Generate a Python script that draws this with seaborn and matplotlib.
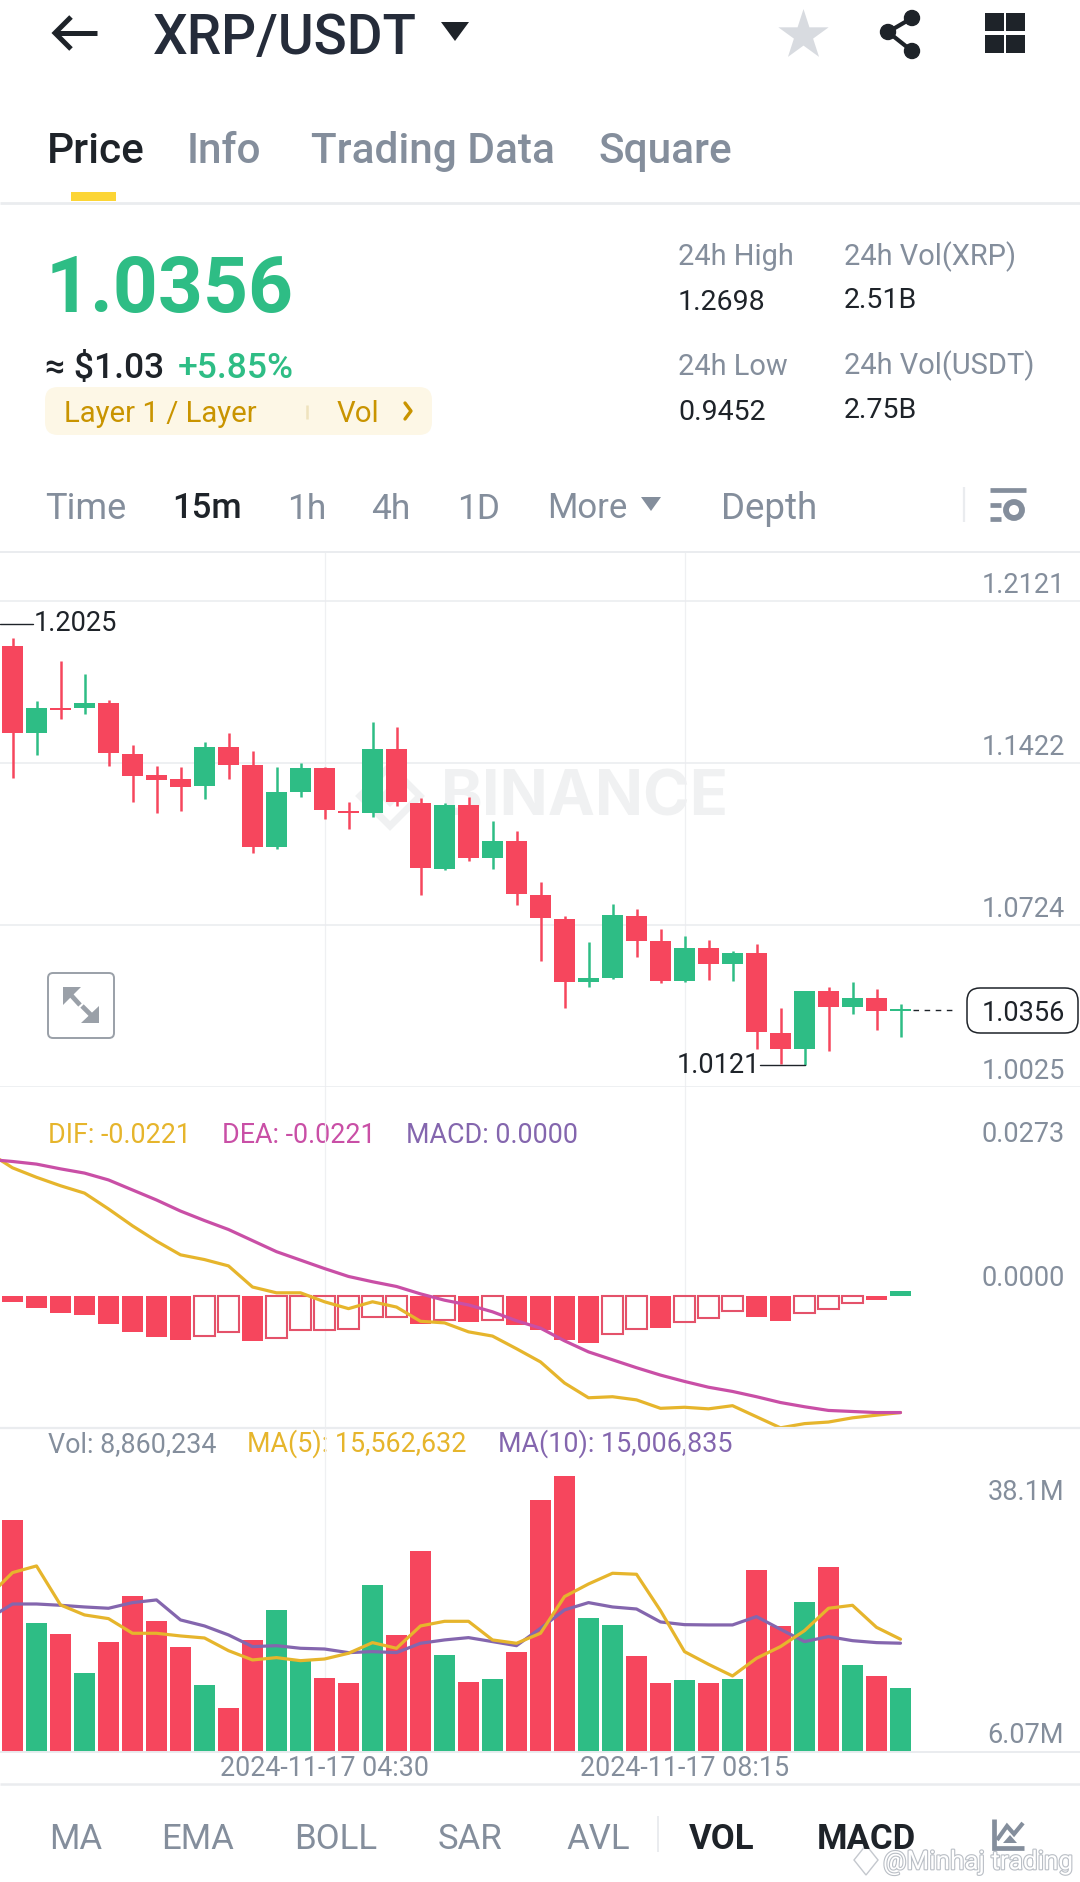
#### Imports ####
import matplotlib
matplotlib.use('Agg')
import matplotlib.pyplot as plt
import matplotlib.patheffects as pe
from matplotlib.patches import FancyBboxPatch, Polygon, Circle, Rectangle
import pandas as pd
import seaborn as sns

#### Data ####
candle_open = [1.1929, 1.1552, 1.1662, 1.1659, 1.1680, 1.1464, 1.1371, 1.1353, 1.1323, 1.1492,
               1.1414, 1.1062, 1.1299, 1.1400, 1.1218, 1.1207, 1.1482, 1.1252, 1.0966, 1.1240,
               1.1012, 1.1088, 1.0855, 1.0751, 1.0478, 1.0495, 1.0764, 1.0656, 1.0481, 1.0626,
               1.0554, 1.0604, 1.0259, 1.0190, 1.0438, 1.0371, 1.0409, 1.0354]
candle_close = [1.1554, 1.1661, 1.1650, 1.1681, 1.1467, 1.1369, 1.1351, 1.1320, 1.1491, 1.1415,
                1.1062, 1.1299, 1.1400, 1.1220, 1.1206, 1.1482, 1.1255, 1.0968, 1.1241, 1.1012,
                1.1088, 1.0856, 1.0754, 1.0479, 1.0495, 1.0766, 1.0657, 1.0481, 1.0626, 1.0554,
                1.0604, 1.0264, 1.0187, 1.0438, 1.0372, 1.0409, 1.0354, 1.0362]
candle_high = [1.1964, 1.1690, 1.1863, 1.1806, 1.1696, 1.1499, 1.1409, 1.1406, 1.1512, 1.1553,
               1.1473, 1.1405, 1.1425, 1.1408, 1.1256, 1.1602, 1.1578, 1.1271, 1.1249, 1.1275,
               1.1173, 1.1131, 1.0908, 1.0761, 1.0652, 1.0815, 1.0793, 1.0708, 1.0678, 1.0659,
               1.0611, 1.0643, 1.0365, 1.0438, 1.0455, 1.0478, 1.0447, 1.0384]
candle_low = [1.1359, 1.1456, 1.1614, 1.1635, 1.1411, 1.1256, 1.1207, 1.1218, 1.1267, 1.1353,
              1.1034, 1.1054, 1.1278, 1.1183, 1.1139, 1.1191, 1.1238, 1.0855, 1.0960, 1.0999,
              1.0965, 1.0812, 1.0568, 1.0366, 1.0455, 1.0491, 1.0588, 1.0475, 1.0479, 1.0488,
              1.0484, 1.0190, 1.0124, 1.0121, 1.0182, 1.0340, 1.0270, 1.0240]
price_ticks = [1.2121, 1.1422, 1.0724, 1.0025]
price_high_mark = 1.2025
price_low_mark = 1.0121
price_last = 1.0356

macd_hist = [-0.0012, -0.0023, -0.0032, -0.0036, -0.0053, -0.0069, -0.0078, -0.0083, -0.0075, -0.0069,
             -0.0086, -0.0080, -0.0064, -0.0064, -0.0062, -0.0039, -0.0039, -0.0054, -0.0045, -0.0049,
             -0.0046, -0.0055, -0.0064, -0.0083, -0.0090, -0.0072, -0.0062, -0.0061, -0.0049, -0.0041,
             -0.0028, -0.0039, -0.0047, -0.0033, -0.0024, -0.0013, -0.0008, 0.0010]
macd_hollow = [8, 9, 11, 12, 13, 14, 15, 16, 18, 20, 25, 26, 28, 29, 30, 33, 34, 35]
macd_ticks = [0.0273, 0.0]

# the lines start one candle left of the visible area
line_index = list(range(-1, 38))
dif_line = [0.0272, 0.0243, 0.0225, 0.0209, 0.0195, 0.0165, 0.0133, 0.0104, 0.0078, 0.0069,
            0.0057, 0.0017, 0.0006, 0.0006, -0.0011, -0.0024, -0.0011, -0.0021, -0.0048, -0.0051,
            -0.0068, -0.0076, -0.0100, -0.0125, -0.0165, -0.0193, -0.0191, -0.0197, -0.0213, -0.0211,
            -0.0214, -0.0208, -0.0229, -0.0250, -0.0242, -0.0239, -0.0231, -0.0226, -0.0221]
dea_line = [0.0259, 0.0255, 0.0250, 0.0241, 0.0233, 0.0220, 0.0201, 0.0182, 0.0161, 0.0143,
            0.0126, 0.0105, 0.0084, 0.0068, 0.0052, 0.0037, 0.0027, 0.0018, 0.0004, -0.0008,
            -0.0017, -0.0030, -0.0047, -0.0061, -0.0085, -0.0106, -0.0121, -0.0136, -0.0150, -0.0162,
            -0.0173, -0.0181, -0.0191, -0.0202, -0.0210, -0.0217, -0.0219, -0.0221, -0.0221]

# volumes in millions
volume = [31.97, 17.80, 16.24, 10.86, 15.13, 21.53, 18.08, 14.44, 9.20, 6.07,
          15.50, 19.60, 12.60, 10.21, 9.48, 23.05, 16.15, 27.74, 13.39, 9.61,
          10.12, 13.85, 34.78, 38.10, 18.54, 17.48, 13.25, 9.48, 9.94, 9.57,
          10.07, 25.12, 17.39, 20.70, 25.58, 12.05, 10.49, 8.86]
ma5_line = [21.44, 24.75, 25.67, 20.29, 18.91, 18.40, 16.38, 16.38, 16.01, 15.73,
            13.98, 12.70, 13.02, 12.60, 12.83, 13.62, 15.09, 14.31, 17.39, 18.03,
            18.03, 15.46, 15.00, 16.38, 21.44, 23.18, 24.66, 24.52, 19.50, 13.85,
            12.10, 10.49, 12.93, 14.54, 16.74, 19.83, 20.24, 17.20, 15.56]
ma10_line = [18.40, 20.42, 20.42, 20.24, 20.01, 19.83, 20.61, 20.98, 18.22, 17.39,
             16.15, 14.54, 14.67, 14.31, 14.21, 13.71, 13.85, 13.71, 15.00, 15.46,
             15.78, 15.23, 14.67, 17.07, 19.60, 20.61, 20.01, 19.73, 17.94, 17.57,
             17.53, 17.53, 18.68, 16.93, 15.23, 15.92, 15.36, 15.09, 15.01]
date_ticks = [13, 28]
date_labels = ['2024-11-17 04:30', '2024-11-17 08:15']

# Colours
GREEN = '#2EBD85'
RED = '#F6465D'
HOLLOW_RED = '#E4526A'
GOLD = '#E6B52C'
PINK = '#C94FA6'
PURPLE = '#8466AE'
DARK = '#1E2329'
GRAY = '#848E9C'
GRID = '#EAECEF'
AMBER = '#C99400'

W, H = 1080, 1882
BAR_W = 21 / 24
TICK_SIZE = 19.5

sns.set_theme(style='white')
plt.rcParams['font.family'] = ['Roboto', 'DejaVu Sans']

fig = plt.figure(figsize=(W / 100, H / 100), dpi=100, facecolor='white')

# Full page axes in pixels, kept behind the chart panels
ui = fig.add_axes([0, 0, 1, 1], zorder=0)
ui.set_xlim(0, W)
ui.set_ylim(H, 0)
ui.axis('off')


def label(x, yc, s, size, color=DARK, ha='left', weight='normal', **kw):
    """Write text with its digits centred on pixel row yc."""
    base = yc + 0.355 * size * 100 / 72
    return ui.text(x, base, s, fontsize=size, color=color, ha=ha, va='baseline', fontweight=weight, **kw)


def poly(points, color, **kw):
    ui.add_patch(Polygon(points, closed=True, facecolor=color, edgecolor='none', **kw))


def stroke(xs, ys, color, lw):
    ui.plot(xs, ys, color=color, lw=lw, solid_capstyle='butt', solid_joinstyle='miter')


def box(x, y, w, h, color):
    ui.add_patch(Rectangle((x, y), w, h, facecolor=color, edgecolor='none', linewidth=0))


def panel(top, bottom):
    """Chart axes covering the full width, with x in candle numbers."""
    ax = fig.add_axes([0, 1 - bottom / H, 1, (bottom - top) / H], zorder=1)
    ax.patch.set_visible(False)
    ax.set_xticks(date_ticks)
    ax.grid(axis='x', color='#EFF0F2', lw=0.9)
    ax.tick_params(length=0, labelbottom=False, labelleft=False)
    for side in ['left', 'right', 'top', 'bottom']:
        ax.spines[side].set_visible(False)
    return ax


def finish(ax, ylim):
    ax.set_xlim(-12.5 / 24, (W - 12.5) / 24)
    ax.set_ylim(*ylim)
    ax.set_xlabel('')
    ax.set_ylabel('')
    ax.tick_params(length=0, labelbottom=False, labelleft=False)


def right_ticks(ax, ticks, rise):
    for tick in ticks:
        ax.annotate(f'{tick:.4f}', (1, tick), xycoords=ax.get_yaxis_transform(), xytext=(-11, rise),
                    textcoords='offset points', ha='right', va='baseline', fontsize=TICK_SIZE, color=GRAY)


#### Price panel ####
ax_price = panel(552, 1087)
candles = pd.DataFrame({'i': range(38), 'open': candle_open, 'close': candle_close,
                        'high': candle_high, 'low': candle_low})
candle_colors = [GREEN if c >= o else RED for o, c in zip(candle_open, candle_close)]
ax_price.vlines(candles['i'], candles['low'], candles['high'], colors=candle_colors, lw=1.8)
ax_price.bar(candles['i'], candles['close'] - candles['open'], bottom=candles['open'],
             width=BAR_W, color=candle_colors, linewidth=0)
ax_price.set_yticks(price_ticks)
ax_price.grid(axis='y', color=GRID, lw=1.1)
ax_price.spines['top'].set_visible(True)
ax_price.spines['top'].set_color(GRID)
ax_price.spines['top'].set_linewidth(1.4)
right_ticks(ax_price, price_ticks, 6)
# high / low markers and last price dashes
ax_price.plot([-0.53, 0.85], [price_high_mark, price_high_mark], color=DARK, lw=1)
ax_price.annotate(f'{price_high_mark:.4f}', (0.88, price_high_mark), ha='left', va='center',
                  fontsize=TICK_SIZE, color=DARK)
ax_price.plot([31.15, 33], [price_low_mark, price_low_mark], color=DARK, lw=1)
ax_price.annotate(f'{price_low_mark:.4f}', (31.15, price_low_mark), xytext=(0, -0.5), textcoords='offset points',
                  ha='right', va='center', fontsize=TICK_SIZE, color=DARK)
ax_price.plot([37.5, 39.2], [price_last, price_last], color=DARK, lw=1, dashes=(4, 4))
finish(ax_price, (1.0025, 1.23337))

#### MACD panel ####
ax_macd = panel(1087, 1428)
macd_df = pd.DataFrame({'i': range(38), 'macd': macd_hist})
macd_df['hollow'] = macd_df['i'].isin(macd_hollow)
macd_df['up'] = macd_df['macd'] > 0
sns.barplot(data=macd_df[~macd_df['hollow']], x='i', y='macd', hue='up', palette={False: RED, True: GREEN},
            native_scale=True, width=BAR_W, dodge=False, saturation=1, linewidth=0, legend=False, ax=ax_macd)
sns.barplot(data=macd_df[macd_df['hollow']], x='i', y='macd', color=HOLLOW_RED, fill=False, linewidth=1.5,
            native_scale=True, width=BAR_W, saturation=1, ax=ax_macd)
lines_df = pd.DataFrame({'i': line_index, 'dif': dif_line, 'dea': dea_line, 'ma5': ma5_line, 'ma10': ma10_line})
sns.lineplot(data=lines_df, x='i', y='dif', color=GOLD, lw=2.3, errorbar=None, ax=ax_macd)
sns.lineplot(data=lines_df, x='i', y='dea', color=PINK, lw=2.3, errorbar=None, ax=ax_macd)
ax_macd.set_yticks(macd_ticks)
ax_macd.grid(axis='y', visible=False)
right_ticks(ax_macd, macd_ticks, 7)
ax_macd.spines['bottom'].set_visible(True)
ax_macd.spines['bottom'].set_color(GRID)
ax_macd.spines['bottom'].set_linewidth(1.6)
finish(ax_macd, (-0.02503, 0.03962))

#### Volume panel ####
ax_vol = panel(1428, 1752)
vol_df = pd.DataFrame({'i': range(38), 'vol': volume, 'color': candle_colors})
sns.barplot(data=vol_df, x='i', y='vol', hue='color', palette={GREEN: GREEN, RED: RED}, native_scale=True,
            width=BAR_W, dodge=False, saturation=1, linewidth=0, legend=False, ax=ax_vol)
sns.lineplot(data=lines_df, x='i', y='ma10', color=PURPLE, lw=2.3, errorbar=None, ax=ax_vol)
sns.lineplot(data=lines_df, x='i', y='ma5', color=GOLD, lw=2.3, errorbar=None, ax=ax_vol)
ax_vol.set_yticks([])
ax_vol.spines['bottom'].set_visible(True)
ax_vol.spines['bottom'].set_color(GRID)
ax_vol.spines['bottom'].set_linewidth(1.4)
finish(ax_vol, (0, 44.7))
ax_vol.set_xticks(date_ticks)
for tick, text in zip(date_ticks, date_labels):
    ax_vol.annotate(text, (tick, 0), xytext=(0, -12), textcoords='offset points', ha='center', va='center',
                    fontsize=19.4, color=GRAY)

#### Header ####
stroke([57, 97], [33, 33], DARK, 3.6)
stroke([71, 55, 71], [17, 33, 49], DARK, 3.6)
label(153, 35, 'XRP/USDT', 39.5, weight='medium', color='#252C3A')
poly([(441, 22), (469, 22), (455, 41)], DARK)
ui.scatter([803], [35], marker='*', s=1450, color='#D8DBE0', linewidths=0)
for cx, cy in [(912, 18), (888, 32), (912, 51)]:
    ui.add_patch(Circle((cx, cy), 7.5, color=DARK))
stroke([912, 888, 912], [18, 32, 51], DARK, 3)
for rx, ry in [(985, 13), (1006, 13), (985, 35), (1006, 35)]:
    box(rx, ry, 19, 18, DARK)

# Tabs
label(47, 148, 'Price', 30.5, weight='medium')
label(187, 148, 'Info', 30.5, GRAY, weight='medium')
label(311, 148, 'Trading Data', 30.5, GRAY, weight='medium')
label(599, 148, 'Square', 30.5, GRAY, weight='medium')
box(71, 192, 45, 9, '#FCD535')
stroke([0, W], [202.5, 202.5], GRID, 2)

# Price summary
label(46, 284, '1.0356', 56.5, GREEN, weight='bold')
label(45, 365, '≈ $1.03', 25.5, weight='medium')
label(178, 365, '+5.85%', 25.5, GREEN, weight='medium')
ui.add_patch(FancyBboxPatch((45, 387), 387, 48, boxstyle='round,pad=0,rounding_size=13',
                            facecolor='#FDF7E6', edgecolor='none'))
label(64, 412, 'Layer 1 / Layer', 21.2, AMBER)
stroke([307, 307], [405, 419], '#EFE3BE', 1.8)
label(337, 412, 'Vol', 21.2, AMBER)
ui.plot([405, 411, 405], [403, 411, 419], color=AMBER, lw=2.4)

label(678, 255, '24h High', 20.9, GRAY)
label(844, 255, '24h Vol(XRP)', 20.9, GRAY)
label(678, 300, '1.2698', 20.5)
label(844, 298, '2.51B', 20.5)
label(678, 365, '24h Low', 20.9, GRAY)
label(844, 364, '24h Vol(USDT)', 20.9, GRAY)
label(678, 410, '0.9452', 20.5)
label(844, 408, '2.75B', 20.5)

# Interval row
label(45, 506, 'Time', 26, GRAY)
label(172, 506, '15m', 25, weight='medium')
label(287, 506, '1h', 25.5, GRAY)
label(371, 506, '4h', 25.5, GRAY)
label(457, 506, '1D', 25.5, GRAY)
label(547, 506, 'More', 25, GRAY)
poly([(641, 497), (661, 497), (651, 511)], GRAY)
label(721, 506, 'Depth', 26.5, GRAY)
stroke([964, 964], [487, 522], GRID, 1.6)
stroke([990, 1026], [490, 490], GRAY, 3.4)
stroke([990, 1001], [505, 505], GRAY, 3.4)
stroke([990, 1001], [519, 519], GRAY, 3.4)
ui.add_patch(Circle((1014, 510), 8, facecolor='white', edgecolor=GRAY, lw=4.2))

# Watermark behind the candles
ui.text(441, 815, 'BINANCE', fontsize=45.5, color='#F0F1F2', fontweight='bold', family='Inter', va='baseline')
ui.add_patch(Polygon([(390, 766), (420, 796), (390, 826), (360, 796)], closed=True, facecolor='none',
                     edgecolor='#F0F1F2', lw=5))
poly([(390, 785), (401, 796), (390, 807), (379, 796)], '#F0F1F2')

# Expand button
ui.add_patch(FancyBboxPatch((48, 973), 66, 65, boxstyle='round,pad=0,rounding_size=5',
                            facecolor='white', edgecolor='#9AA0A8', lw=1.4))
poly([(63, 987), (81, 987), (63, 1005)], '#9AA0A8')
poly([(99, 1006), (99, 1023), (81, 1023)], '#9AA0A8')
stroke([70, 80], [994, 1005], '#9AA0A8', 3.4)
stroke([82, 92], [1006, 1016], '#9AA0A8', 3.4)

# Last price box
ui.add_patch(FancyBboxPatch((967, 988), 111, 45, boxstyle='round,pad=0,rounding_size=13',
                            facecolor='white', edgecolor=DARK, lw=1.1))
label(1023, 1011, '1.0356', TICK_SIZE, ha='center')

# Indicator read-outs
label(48, 1133, 'DIF: -0.0221', 19.4, GOLD)
label(222, 1133, 'DEA: -0.0221', 19.4, PINK)
label(406, 1133, 'MACD: 0.0000', 19.4, PURPLE)
label(48, 1442, 'Vol: 8,860,234', 19.4, GRAY)
label(247, 1442, 'MA(5): 15,562,632', 19.4, GOLD)
label(498, 1442, 'MA(10): 15,006,835', 19.4, PURPLE)
label(1064, 1490, '38.1M', TICK_SIZE, GRAY, ha='right')
label(1064, 1733, '6.07M', TICK_SIZE, GRAY, ha='right')

# Bottom toolbar
stroke([0, W], [1784, 1784], GRID, 1.8)
label(49, 1837, 'MA', 25, GRAY)
label(161, 1837, 'EMA', 25, GRAY)
label(294, 1837, 'BOLL', 25, GRAY)
label(438, 1837, 'SAR', 25, GRAY)
label(566, 1837, 'AVL', 25, GRAY)
stroke([658, 658], [1816, 1852], GRID, 1.4)
label(689, 1837, 'VOL', 25, weight='bold')
label(817, 1837, 'MACD', 25, weight='bold')
stroke([994, 994, 1024], [1819, 1848, 1848], GRAY, 3.4)
stroke([997, 1007, 1014, 1023], [1840, 1826, 1834, 1823], GRAY, 3)
poly([(1003, 1843), (1017, 1843), (1010, 1835)], GRAY)

# Repost watermark
outline = [pe.withStroke(linewidth=1.6, foreground='#B9BEC5')]
label(883, 1860, '@Minhaj trading', 18.8, 'white', path_effects=outline)
ui.add_patch(Polygon([(866, 1845), (878, 1860), (866, 1875), (854, 1860)], closed=True, facecolor='white',
                     edgecolor='#C4C8CE', lw=1))

fig.savefig('out.png', dpi=100)
